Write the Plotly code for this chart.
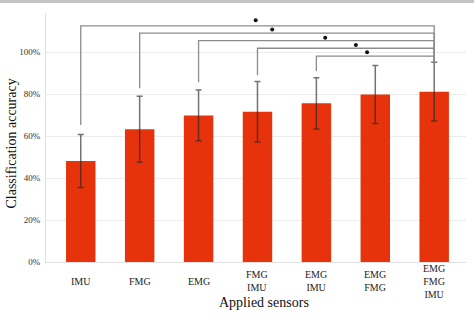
import plotly.graph_objects as go

categories = ["IMU", "FMG", "EMG", "FMG<br>IMU", "EMG<br>IMU", "EMG<br>FMG", "EMG<br>FMG<br>IMU"]
accuracy = [48.1, 63.2, 69.8, 71.6, 75.6, 79.8, 81.1]
accuracy_sd = [12.6, 15.7, 12.1, 14.4, 12.2, 13.8, 14.0]
y_ticks = [0, 20, 40, 60, 80, 100]
y_tick_labels = ["0%", "20%", "40%", "60%", "80%", "100%"]

# significance brackets (compared to EMG+FMG+IMU)
bracket_start = [0, 1, 2, 3, 4]
bracket_level = [112.5, 109.0, 105.4, 101.8, 98.1]
bracket_drop = [65.2, 82.7, 85.6, 89.0, 91.0]
bracket_end = 6
bracket_end_bottom = 95.1
star_x = [2.97, 3.25, 4.15, 4.67, 4.86]
star_y = [115.2, 110.8, 106.8, 103.3, 99.9]

x_idx = list(range(len(categories)))
SERIF = "Liberation Serif"

fig = go.Figure()

fig.add_trace(go.Bar(
    x=x_idx, y=accuracy, width=0.5,
    marker=dict(color="#e6330b", line=dict(width=0)),
    error_y=dict(type="data", array=accuracy_sd, visible=True,
                 color="rgba(40,40,40,0.65)", thickness=1.5, width=3),
    showlegend=False, hoverinfo="skip",
))

# bracket lines
for s, lv, d in zip(bracket_start, bracket_level, bracket_drop):
    fig.add_trace(go.Scatter(
        x=[s, s, bracket_end, bracket_end], y=[d, lv, lv, bracket_end_bottom],
        mode="lines", line=dict(color="#8c8c8c", width=1.3),
        showlegend=False, hoverinfo="skip",
    ))

fig.add_trace(go.Scatter(
    x=star_x, y=star_y, mode="markers",
    marker=dict(color="#111", size=4),
    showlegend=False, hoverinfo="skip",
))

# category labels
for i, c in enumerate(categories):
    fig.add_annotation(x=i, xref="x", y=0, yref="paper", yshift=-19,
                       text=c, showarrow=False, yanchor="middle", xanchor="center",
                       font=dict(family=SERIF, size=10, color="#222"))

fig.add_annotation(x=0.52, xref="paper", y=0, yref="paper", yshift=-40,
                   text="Applied sensors", showarrow=False, yanchor="middle",
                   font=dict(family=SERIF, size=14, color="#111"))
fig.add_annotation(x=-0.082, xref="paper", y=0.474, yref="paper",
                   text="Classification accuracy", showarrow=False, textangle=-90,
                   xanchor="center", yanchor="middle",
                   font=dict(family=SERIF, size=14, color="#111"))

# top grey frame band
fig.add_shape(type="rect", xref="paper", yref="paper",
              x0=-0.12, x1=1.03, y0=1 + 10 / 249, y1=1 + 14 / 249,
              fillcolor="#c4c4c4", line=dict(width=0), layer="above")

fig.update_layout(
    width=474, height=328,
    margin=dict(l=46, r=8, t=13, b=66),
    paper_bgcolor="white", plot_bgcolor="white",
    font=dict(family=SERIF, color="#333"),
    xaxis=dict(range=[-0.59, 6.54], showticklabels=False, showgrid=False,
               zeroline=False, showline=True, linecolor="#e0e0e0", linewidth=1,
               fixedrange=True),
    yaxis=dict(range=[0, 118.6], tickmode="array", tickvals=y_ticks,
               ticktext=y_tick_labels,
               showgrid=True, gridcolor="#ececec", gridwidth=1,
               zeroline=False, showline=True, linecolor="#e0e0e0", linewidth=1,
               ticks="outside", ticklen=3, tickcolor="rgba(0,0,0,0)",
               tickfont=dict(family=SERIF, size=9, color="#333"),
               fixedrange=True),
)

fig.write_html("out.html")
